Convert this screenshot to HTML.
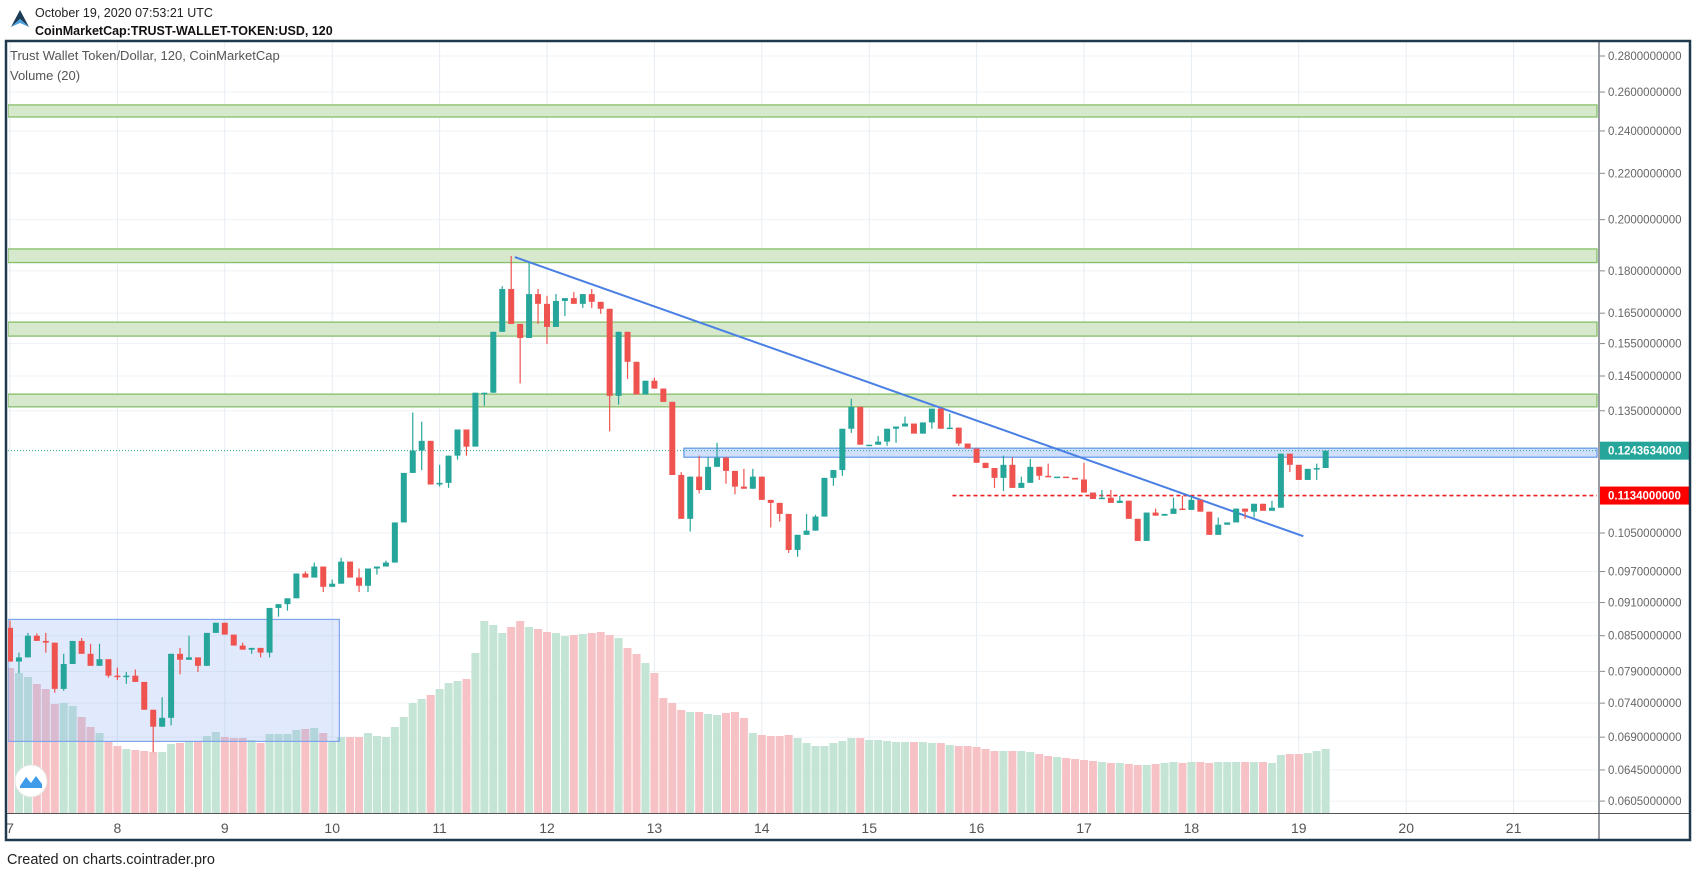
<!DOCTYPE html>
<html><head><meta charset="utf-8"><style>
html,body{margin:0;padding:0;background:#fff;width:1696px;height:872px;overflow:hidden}
svg{display:block}
text{font-family:"Liberation Sans",sans-serif}
</style></head><body>
<svg id="chart" width="1696" height="872" viewBox="0 0 1696 872" xmlns="http://www.w3.org/2000/svg">
<defs><clipPath id="plotclip"><rect x="8" y="42" width="1591" height="771"/></clipPath></defs>
<g>
  <g><polygon points="11,27 20,10 29,27 20,19" fill="#1d3d56"/><polygon points="11,27 20,19 29,27 20,23" fill="#4aa3df"/></g>
  <text x="35" y="17" font-size="12.5" fill="#222" style="font-family:'Liberation Sans Narrow','Liberation Sans',sans-serif">October 19, 2020 07:53:21 UTC</text>
  <text x="35" y="35" font-size="12.5" font-weight="bold" fill="#111" style="font-family:'Liberation Sans Narrow','Liberation Sans',sans-serif">CoinMarketCap:TRUST-WALLET-TOKEN:USD, 120</text>
</g>
<g id="grid"></g>
<g id="bands" clip-path="url(#plotclip)"></g>
<g id="vol" clip-path="url(#plotclip)"></g>
<g id="overlays" clip-path="url(#plotclip)"></g>
<g id="candles" clip-path="url(#plotclip)"></g>
<g id="axis"></g>
<g id="taxis"></g>
<text x="10" y="60" font-size="13" fill="#555" style="font-family:'Liberation Sans Narrow','Liberation Sans',sans-serif">Trust Wallet Token/Dollar, 120, CoinMarketCap</text>
<text x="10" y="80" font-size="13" fill="#555" style="font-family:'Liberation Sans Narrow','Liberation Sans',sans-serif">Volume (20)</text>
<g><circle cx="31" cy="781" r="16" fill="#fff" stroke="#e4e4e4"/><path d="M20,786 L26,777 L31,783 L36,776 L42,784 L42,788 L20,788 Z" fill="#3d9be9"/></g>
<rect x="6" y="41" width="1684" height="799" fill="none" stroke="#1f3a4f" stroke-width="2.5"/>
<text x="7" y="864" font-size="14.5" fill="#222">Created on charts.cointrader.pro</text>
</svg>
<script>
const closes=[0.0806,0.0813,0.0850,0.0841,0.0838,0.0762,0.0802,0.0841,0.0819,0.0799,0.0810,0.0783,0.0781,0.0783,0.0773,0.0730,0.0705,0.0718,0.0819,0.0809,
0.0813,0.0799,0.0855,0.0873,0.0852,0.0833,0.0826,0.0829,0.0821,0.0900,0.0907,0.0918,0.0966,0.0958,0.0980,0.0940,0.0946,0.0990,0.0958,0.0942,
0.0976,0.0980,0.0988,0.1073,0.1188,0.1244,0.1269,0.1160,0.1164,0.1231,0.1299,0.1254,0.1401,0.1401,0.1588,0.1734,0.1614,0.1568,0.1716,0.1682,
0.1604,0.1692,0.1702,0.1682,0.1716,0.1689,0.1665,0.1392,0.1588,0.1493,0.1396,0.1436,0.1413,0.1375,0.1183,0.1081,0.1179,0.1147,0.1203,0.1226,
0.1193,0.1155,0.1150,0.1179,0.1124,0.1117,0.1092,0.1014,0.1046,0.1055,0.1086,0.1176,0.1195,0.1301,0.1361,0.1259,0.1259,0.1267,0.1301,0.1307,
0.1315,0.1288,0.1318,0.1356,0.1301,0.1304,0.1262,0.1249,0.1213,0.1200,0.1176,0.1208,0.1152,0.1164,0.1203,0.1181,0.1179,0.1179,0.1176,0.1172,
0.1141,0.1126,0.1129,0.1117,0.1122,0.1081,0.1033,0.1095,0.1088,0.1092,0.1104,0.1101,0.1124,0.1097,0.1046,0.1068,0.1073,0.1104,0.1097,0.1115,
0.1099,0.1106,0.1236,0.1208,0.1171,0.1198,0.1200,0.12436];
const firstOpen=0.0864;
const highIdx=[0,1,2,3,4,6,8,9,10,12,13,14,17,19,20,26,33,34,36,37,39,42,45,46,48,55,56,58,59,60,61,63,65,72,75,77,78,79,80,82,83,89,90,94,97,100,105,111,112,113,114,116,120,122,123,124,128,130,131,132,135,141,146];
const highVal=[0.0877,0.0821,0.0855,0.0854,0.0855,0.0819,0.0846,0.0836,0.0836,0.0796,0.0789,0.0793,0.0749,0.0829,0.0850,0.0838,0.0970,0.0988,0.0954,0.0998,0.0976,0.0992,0.1345,0.1320,0.1208,0.1744,0.1856,0.1830,0.1734,0.1710,0.1716,0.1723,0.1734,0.1445,0.1190,0.1231,0.1228,0.1264,0.1228,0.1198,0.1198,0.1092,0.1090,0.1384,0.1282,0.1334,0.1342,0.1231,0.1226,0.1179,0.1223,0.1211,0.1213,0.1147,0.1147,0.1133,0.1104,0.1129,0.1133,0.1133,0.1084,0.1122,0.1211];
const lowIdx=[1,4,5,6,11,12,13,16,18,19,21,27,28,29,30,31,35,39,40,41,46,48,49,50,51,53,57,59,60,62,64,65,66,67,68,69,76,77,80,81,85,86,87,88,92,93,94,98,99,103,106,110,111,115,138,139,143,146];
const lowVal=[0.0787,0.0821,0.0756,0.0759,0.0780,0.0776,0.0770,0.0669,0.0707,0.0785,0.0789,0.0819,0.0813,0.0813,0.0884,0.0895,0.0930,0.0930,0.0930,0.0964,0.1195,0.1155,0.1152,0.1221,0.1231,0.1364,0.1428,0.1614,0.1549,0.1640,0.1668,0.1668,0.1648,0.1294,0.1367,0.1441,0.1053,0.1139,0.1162,0.1137,0.1062,0.1075,0.1008,0.1000,0.1157,0.1181,0.1290,0.1256,0.1264,0.1301,0.1256,0.1152,0.1145,0.1171,0.1081,0.1084,0.1190,0.1171];
const volumes=[1450,1400,1360,1290,1240,1090,1100,1070,960,860,800,710,670,640,630,620,610,610,690,700,
710,710,770,810,760,750,750,730,700,790,790,790,830,840,850,800,710,760,760,760,
800,770,760,860,960,1100,1140,1180,1240,1300,1320,1340,1600,1920,1880,1800,1860,1920,1860,1840,
1810,1800,1770,1780,1790,1800,1810,1780,1750,1650,1590,1500,1400,1150,1100,1030,1010,1010,990,980,
1000,1010,950,800,780,770,770,780,750,700,670,670,700,720,750,750,730,730,720,710,
710,710,710,700,700,680,670,670,660,640,620,620,620,620,610,590,570,560,550,540,
530,520,510,500,500,490,480,480,490,500,510,500,510,510,500,510,510,510,510,510,
510,500,580,590,590,600,620,640];
const priceTicks=[0.28,0.26,0.24,0.22,0.20,0.18,0.165,0.155,0.145,0.135,0.105,0.097,0.091,0.085,0.079,0.074,0.069,0.0645,0.0605];
const dayTicks=[7,8,9,10,11,12,13,14,15,16,17,18,19,20,21];
const zones=[[0.2532,0.2470],[0.1883,0.1831],[0.1620,0.1574],[0.1397,0.1361]];
const lastPrice=0.1243634, resistance=0.1134;
const trendStart=[56.4,0.1852], trendEnd=[144.5,0.1043];
const boxX=[0,36.8], boxP=[0.0879,0.0684];
const blueBand=[75.3,0.1250,0.1227];

const NS='http://www.w3.org/2000/svg';
const PX0=10, STEP=8.95, PLOTR=1597, PLOTB=813;
const X=i=>PX0+STEP*i;
const Y=p=>56+486.3*Math.log(0.28/p);
const VY=v=>PLOTB-v/10;
function mk(tag,at,parent){const e=document.createElementNS(NS,tag);for(const k in at)e.setAttribute(k,at[k]);parent.appendChild(e);return e;}
const G=id=>document.getElementById(id);

for(const p of priceTicks){const l=mk('line',{x1:8,x2:1599,y1:Y(p),y2:Y(p),stroke:'#edf1f5','stroke-width':1},G('grid'));

}
for(const d of dayTicks){const x=X((d-7)*12);const l=mk('line',{x1:x,x2:x,y1:42,y2:813,stroke:'#e6edf3','stroke-width':1},G('grid'));

}

for(const z of zones){const r=mk('rect',{x:8,y:Y(z[0]),width:1589,height:Y(z[1])-Y(z[0]),fill:'#d6e9cd',stroke:'#86bf6a','stroke-width':1.3},G('bands'));

}

const opens=closes.map((c,i)=>i===0?firstOpen:closes[i-1]);

volumes.forEach((v,i)=>{const up=closes[i]>=opens[i];const r=mk('rect',{x:X(i)-4,y:VY(v),width:8,height:PLOTB-VY(v),fill:up?'#c4e5d6':'#f7c2c5'},G('vol'));

});

const ov=G('overlays');
let e=mk('rect',{x:8,y:Y(boxP[0]),width:X(boxX[1])-8,height:Y(boxP[1])-Y(boxP[0]),fill:'rgba(120,160,240,0.22)',stroke:'#7fa6ea','stroke-width':1.2},ov);


e=mk('rect',{x:X(blueBand[0]),y:Y(blueBand[1]),width:PLOTR-X(blueBand[0]),height:Y(blueBand[2])-Y(blueBand[1]),fill:'rgba(120,165,245,0.35)',stroke:'#5f97e6','stroke-width':1.2},ov);


e=mk('line',{x1:8,x2:PLOTR,y1:Y(lastPrice),y2:Y(lastPrice),stroke:'#26a69a','stroke-width':1,'stroke-dasharray':'1 2'},ov);


e=mk('line',{x1:X(105.3),x2:PLOTR,y1:Y(resistance),y2:Y(resistance),stroke:'#f21f1f','stroke-width':1.6,'stroke-dasharray':'4 3'},ov);


e=mk('line',{x1:X(trendStart[0]),y1:Y(trendStart[1]),x2:X(trendEnd[0]),y2:Y(trendEnd[1]),stroke:'#4a80e4','stroke-width':2},ov);



const hiMap={},loMap={};highIdx.forEach((k,j)=>hiMap[k]=highVal[j]);lowIdx.forEach((k,j)=>loMap[k]=lowVal[j]);
closes.forEach((c,i)=>{const o=opens[i];const up=c>=o;const col=up?'#26a69a':'#ef5350';
const h=Math.max(o,c,hiMap[i]||0),l=Math.min(o,c,loMap[i]||9);
const x=X(i);
const w=mk('line',{x1:x,x2:x,y1:Y(h),y2:Y(l),stroke:col,'stroke-width':1.2},G('candles'));


const top=Y(Math.max(o,c)),bh=Math.max(1.5,Y(Math.min(o,c))-top);
const b=mk('rect',{x:x-3,y:top,width:6,height:bh,fill:col},G('candles'));

});

const ax=G('axis');
e=mk('line',{x1:1599,x2:1599,y1:42,y2:840,stroke:'#9a9ca3','stroke-width':2},ax);


for(const p of priceTicks){const y=Y(p);
const t=mk('line',{x1:1600,x2:1605,y1:y,y2:y,stroke:'#888'},ax);


const tx=mk('text',{x:1608,y:y+4,'font-size':11.5,fill:'#666'},ax);tx.textContent=p.toFixed(10);

}
[[lastPrice,'#26a69a'],[resistance,'#ff0000']].forEach(([p,c])=>{const y=Y(p);
const r=mk('rect',{x:1600,y:y-9,width:89,height:18,fill:c},ax);


const t=mk('text',{x:1608,y:y+4,'font-size':11.5,fill:'#fff','font-weight':'bold'},ax);t.textContent=p.toFixed(10);

});

const ta=G('taxis');
e=mk('line',{x1:7,x2:1689,y1:813.5,y2:813.5,stroke:'#555','stroke-width':1},ta);


for(const d of dayTicks){const x=X((d-7)*12);
const t=mk('text',{x:x,y:833,'font-size':14,fill:'#555','text-anchor':'middle'},ta);t.textContent=d;

}
</script>
</body></html>
